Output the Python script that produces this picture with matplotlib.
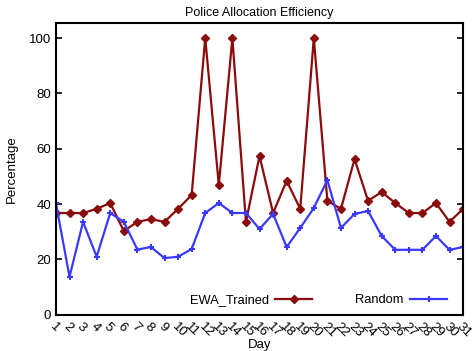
import matplotlib
matplotlib.use("Agg")
import matplotlib.pyplot as plt

plt.rcParams['font.family'] = ['Liberation Sans', 'DejaVu Sans']

days = list(range(1, 32))
ewa_trained = [36.8, 36.8, 36.8, 38.3, 40.4, 30.3, 33.6, 34.6, 33.6, 38.3,
               43.3, 100, 46.9, 100, 33.6, 57.4, 36.8, 48.4, 38.3, 100,
               41.2, 38.3, 56.3, 41.2, 44.4, 40.4, 36.8, 36.8, 40.4, 33.6, 38.3]
random_alloc = [40.4, 13.7, 33.6, 21.0, 36.8, 33.6, 23.6, 24.5, 20.5, 21.0,
                23.8, 36.8, 40.4, 36.8, 36.8, 31.0, 36.5, 24.5, 31.4, 38.6,
                48.7, 31.4, 36.5, 37.5, 28.5, 23.5, 23.5, 23.5, 28.5, 23.5, 24.5]

fig = plt.figure(figsize=(4.74, 3.51), dpi=100)
ax = fig.add_axes([0.118, 0.103, 0.859, 0.831])

ax.plot(days, ewa_trained, color='#8b0a0a', lw=1.6, marker='D', ms=4.5,
        label='EWA_Trained')
ax.plot(days, random_alloc, color='#3a3aff', lw=1.6, marker='+', ms=5,
        mew=1.5, label='Random')

ax.set_xlim(1, 31)
ax.set_ylim(0, 105.4)
ax.set_yticks([0, 20, 40, 60, 80, 100])
ax.set_xticks(days)
ax.set_xticklabels([str(d) for d in days], rotation=-45, ha='left',
                   va='top', rotation_mode='anchor')
ax.tick_params(axis='both', direction='in', labelsize=9.5, length=4,
               width=1.2, right=True, top=False)
ax.tick_params(axis='x', length=0, pad=4)
for s in ax.spines.values():
    s.set_linewidth(1.5)

ax.set_title('Police Allocation Efficiency', fontsize=9, pad=5)
ax.set_xlabel('Day', fontsize=9.5, labelpad=0)
ax.set_ylabel('Percentage', fontsize=9.5, labelpad=8)

ax.legend(loc='lower right', ncol=2, frameon=False, markerfirst=False,
          fontsize=9.3, handlelength=2.9, handletextpad=0.5,
          columnspacing=3.3, bbox_to_anchor=(0.99, -0.01))

fig.savefig('out.png', dpi=100)
